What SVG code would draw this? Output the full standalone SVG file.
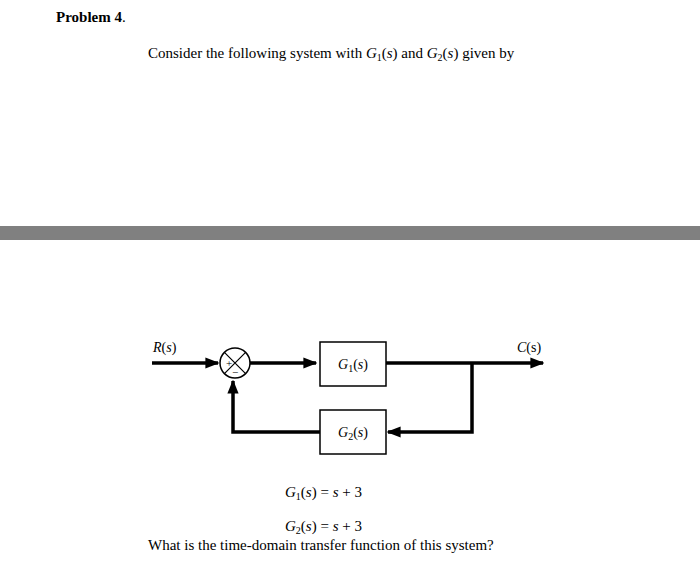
<svg xmlns="http://www.w3.org/2000/svg" width="700" height="562" viewBox="0 0 700 562">
<style>
.t{font-family:"Liberation Serif",serif;fill:#000}
.l{stroke:#000;stroke-width:3.5;fill:none}
.b{fill:#fff;stroke:#000;stroke-width:1.5}
</style>
<defs><marker id="a" viewBox="0 0 10 10" refX="9" refY="5" markerWidth="4" markerHeight="4" orient="auto"><path d="M0,1 L10,5 L0,9 Z" fill="#000"/></marker></defs>
<rect width="700" height="562" fill="#fff"/>
<text class="t" x="56" y="22" font-size="15" font-weight="bold">Problem 4<tspan font-weight="normal">.</tspan></text>
<text class="t" x="148" y="58" font-size="15">Consider the following system with <tspan font-style="italic">G</tspan><tspan font-size="10" dy="3">1</tspan><tspan dy="-3">(</tspan><tspan font-style="italic">s</tspan>) and <tspan font-style="italic">G</tspan><tspan font-size="10" dy="3">2</tspan><tspan dy="-3">(</tspan><tspan font-style="italic">s</tspan>) given by</text>
<rect x="0" y="226" width="700" height="14" fill="#808080"/>
<g id="connectors">
<path class="l" d="M152,363 L218,363" marker-end="url(#a)"/>
<path class="l" d="M250,363 L316,363" marker-end="url(#a)"/>
<path class="l" d="M386,363 L543,363" marker-end="url(#a)"/>
<path class="l" d="M472,363 L472,432 L388,432" marker-end="url(#a)"/>
<path class="l" d="M320,432 L233,432 L233,381" marker-end="url(#a)"/>
</g>
<g id="sum">
<circle cx="235" cy="363" r="15" fill="#fff" stroke="#000" stroke-width="1.5"/>
<path d="M224.4,352.4 L245.6,373.6 M245.6,352.4 L224.4,373.6" stroke="#000" stroke-width="1.2"/>
<text class="t" x="226" y="367" font-size="11">+</text>
<text class="t" x="232" y="376" font-size="11">−</text>
</g>
<g id="G1"><rect class="b" x="320" y="342" width="66" height="44"/>
<text class="t" x="353" y="369" font-size="14" text-anchor="middle"><tspan font-style="italic">G</tspan><tspan font-size="10" dy="3">1</tspan><tspan dy="-3">(</tspan><tspan font-style="italic">s</tspan>)</text></g>
<g id="G2"><rect class="b" x="320" y="410" width="66" height="44"/>
<text class="t" x="353" y="437" font-size="14" text-anchor="middle"><tspan font-style="italic">G</tspan><tspan font-size="10" dy="3">2</tspan><tspan dy="-3">(</tspan><tspan font-style="italic">s</tspan>)</text></g>
<text class="t" x="153" y="352" font-size="14"><tspan font-style="italic">R</tspan>(<tspan font-style="italic">s</tspan>)</text>
<text class="t" x="517" y="352" font-size="14"><tspan font-style="italic">C</tspan>(s)</text>
<text class="t" x="285" y="497" font-size="15"><tspan font-style="italic">G</tspan><tspan font-size="10" dy="3">1</tspan><tspan dy="-3">(</tspan><tspan font-style="italic">s</tspan>) = <tspan font-style="italic">s</tspan> + 3</text>
<text class="t" x="285" y="531" font-size="15"><tspan font-style="italic">G</tspan><tspan font-size="10" dy="3">2</tspan><tspan dy="-3">(</tspan><tspan font-style="italic">s</tspan>) = <tspan font-style="italic">s</tspan> + 3</text>
<text class="t" x="148" y="550" font-size="15">What is the time-domain transfer function of this system?</text>
</svg>
